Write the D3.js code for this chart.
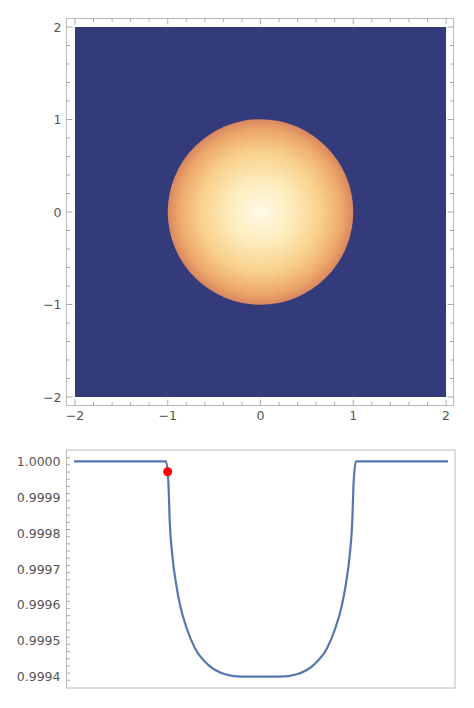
<!DOCTYPE html><html><head><meta charset="utf-8">
<script src="https://cdn.jsdelivr.net/npm/d3@7"></script>
<style>body{margin:0;background:#fff}text{font-family:"DejaVu Sans",sans-serif;fill:#555;font-size:12.5px}</style></head><body>
<svg id="c" width="474" height="708"></svg>
<script>
const topTicks=[-2,-1,0,1,2];
const starRadius=1;
const curveX=[-2,-1.016,-0.991,-0.976,-0.949,-0.912,-0.866,-0.795,-0.706,-0.564,-0.385,-0.206,0,0.206,0.385,0.564,0.706,0.795,0.866,0.912,0.949,0.976,0.991,1.016,2];
const curveY=[1,1,0.999943,0.999832,0.999739,0.999665,0.9996,0.999535,0.999479,0.999433,0.999407,0.9994,0.9994,0.9994,0.999407,0.999433,0.999479,0.999535,0.9996,0.999665,0.999739,0.999832,0.999943,1,1];
const bottomTicks=[0.9994,0.9995,0.9996,0.9997,0.9998,0.9999,1.0];
const marker=[-0.998,0.999971];

const svg=d3.select("#c");
const fl={l:66.5,r:453.5,t:18.5,b:405.5};
const x=d3.scaleLinear().domain([-2,2]).range([75,446]);
const y=d3.scaleLinear().domain([-2,2]).range([397,27]);
const defs=svg.append("defs");
const g=defs.append("radialGradient").attr("id","sg");
[[0,"#fffbe8"],[0.35,"#fdebba"],[0.65,"#f8d08c"],[0.88,"#eda86a"],[1,"#d9875f"]].forEach(s=>g.append("stop").attr("offset",s[0]).attr("stop-color",s[1]));
svg.append("rect").attr("x",x(-2)).attr("y",y(2)).attr("width",x(2)-x(-2)).attr("height",y(-2)-y(2)).attr("fill","#343b7b");
svg.append("circle").attr("cx",x(0)).attr("cy",y(0)).attr("r",x(starRadius)-x(0)).attr("fill","url(#sg)");
svg.append("rect").attr("x",fl.l).attr("y",fl.t).attr("width",fl.r-fl.l).attr("height",fl.b-fl.t).attr("fill","none").attr("stroke","#bbb");
const minor=d3.range(-2,2.001,0.2);
minor.forEach(v=>{const maj=Math.abs(v-Math.round(v))<1e-6;const L=maj?6:3.5;
 svg.append("line").attr("x1",x(v)).attr("x2",x(v)).attr("y1",fl.b).attr("y2",fl.b-L).attr("stroke","#aaa");
 svg.append("line").attr("x1",x(v)).attr("x2",x(v)).attr("y1",fl.t).attr("y2",fl.t+L).attr("stroke","#aaa");
 svg.append("line").attr("y1",y(v)).attr("y2",y(v)).attr("x1",fl.l).attr("x2",fl.l+L).attr("stroke","#aaa");
 svg.append("line").attr("y1",y(v)).attr("y2",y(v)).attr("x1",fl.r).attr("x2",fl.r-L).attr("stroke","#aaa");});
topTicks.forEach(v=>{
 svg.append("text").attr("x",x(v)).attr("y",fl.b+14).attr("text-anchor","middle").text(v<0?"\u2212"+(-v):v);
 svg.append("text").attr("x",fl.l-5).attr("y",y(v)+4.5).attr("text-anchor","end").text(v<0?"\u2212"+(-v):v);});

const bf={l:66.5,r:455,t:450,b:688};
const bx=d3.scaleLinear().domain([-2,2]).range([74,448]);
const by=d3.scaleLinear().domain([0.9994,1]).range([676.7,461.3]);
svg.append("rect").attr("x",bf.l).attr("y",bf.t).attr("width",bf.r-bf.l).attr("height",bf.b-bf.t).attr("fill","none").attr("stroke","#bbb");
d3.range(0.99939,1.000025,0.00002).forEach(v=>{const maj=Math.abs(v*10000-Math.round(v*10000))<1e-4;
 svg.append("line").attr("x1",bf.l).attr("x2",bf.l+(maj?6:3.5)).attr("y1",by(v)).attr("y2",by(v)).attr("stroke","#aaa");});
bottomTicks.forEach(v=>svg.append("text").attr("x",bf.l-6).attr("y",by(v)+4.5).attr("text-anchor","end").attr("font-size","13").text(v.toFixed(4)));
const pts=curveX.map((d,i)=>[d,curveY[i]]);
svg.append("path").datum(pts).attr("fill","none").attr("stroke","#5477b0").attr("stroke-width",2.2)
 .attr("d",d3.line().x(d=>bx(d[0])).y(d=>by(d[1])).curve(d3.curveMonotoneX));
svg.append("circle").attr("cx",bx(marker[0])).attr("cy",by(marker[1])).attr("r",4.5).attr("fill","#f00");
</script></body></html>
